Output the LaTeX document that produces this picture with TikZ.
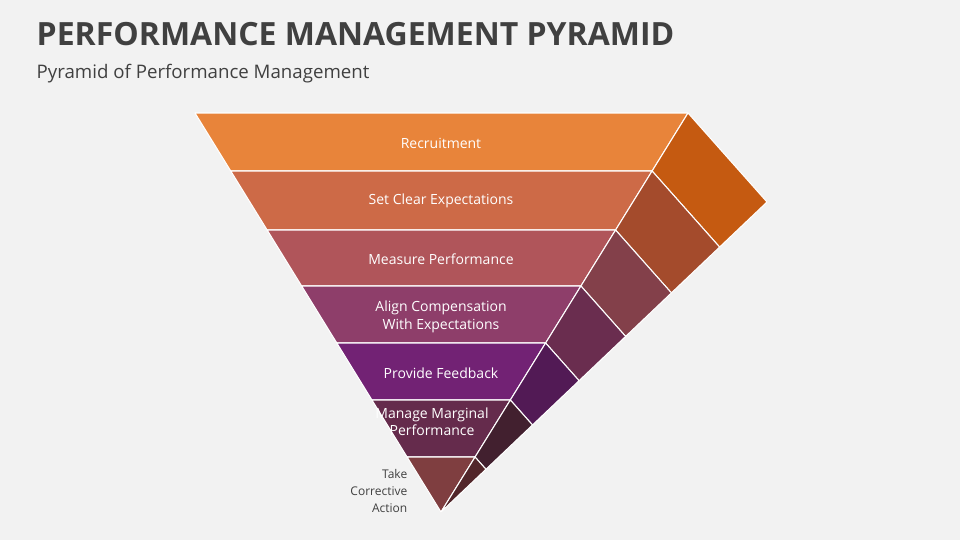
\documentclass[tikz,border=0pt]{standalone}
\usepackage{fontspec}
\setmainfont{Open Sans}
\begin{document}
\begin{tikzpicture}[x=0.75pt,y=-0.75pt,
  face/.style={draw=white,line width=0.8pt,line join=round},
  lbl/.style={text=white,font=\fontsize{10.5}{13}\selectfont,align=center}]
\fill[fill={rgb,255:red,242;green,242;blue,242}] (0,0) rectangle (960,540);
\useasboundingbox (0,0) rectangle (960,540);
\node[anchor=west,font=\bfseries\fontsize{24}{28}\selectfont,text={rgb,255:red,64;green,64;blue,64}] (title) at (32,34) {PERFORMANCE MANAGEMENT PYRAMID};
\node[anchor=west,font=\fontsize{14}{17}\selectfont,text={rgb,255:red,64;green,64;blue,64}] (sub) at (32,74) {Pyramid of Performance Management};
% apex A=(441,512), T-front-left L=(195,113), R=(688,113), B=(767,202)
\def\ys{{113,171,230,286,343,400,457,512}}
\def\fc{{"E8843A","CD6A47","B0555A","8E3E6A","722274","652B4C","7F3E40"}}
\def\sc{{"C55A11","A44B2C","83404A","6A2D4F","521A55","42202F","52262A"}}
\foreach \i in {0,...,6}{
  \pgfmathsetmacro\ya{\ys[\i]}
  \pgfmathsetmacro\yb{\ys[\i+1]}
  \pgfmathsetmacro\fa{(512-\ya)/399}
  \pgfmathsetmacro\fb{(512-\yb)/399}
  \pgfmathsetmacro\fcol{\fc[\i]}
  \pgfmathsetmacro\scol{\sc[\i]}
  \definecolor{fcc}{HTML}{\fcol}
  \definecolor{scc}{HTML}{\scol}
  \fill[fcc,face] (441-246*\fa,\ya) -- (441+247*\fa,\ya) -- (441+247*\fb,\yb) -- (441-246*\fb,\yb) -- cycle;
  \fill[scc,face] (441+247*\fa,\ya) -- (441+326*\fa,512-310*\fa) -- (441+326*\fb,512-310*\fb) -- (441+247*\fb,\yb) -- cycle;
}
\node[lbl] (l1) at (441,143) {Recruitment};
\node[lbl] (l2) at (441,201) {Set Clear Expectations};
\node[lbl] (l3) at (441,259) {Measure Performance};
\node[lbl] (l4) at (441,317) {Align Compensation\\With Expectations};
\node[lbl] (l5) at (441,373) {Provide Feedback};
\node[lbl] (l6) at (432,422) {Manage Marginal\\Performance};
\node[align=right,anchor=east,font=\fontsize{9}{13}\selectfont,text={rgb,255:red,64;green,64;blue,64}] (l7) at (412,491) {Take\\Corrective\\Action};
\end{tikzpicture}
\end{document}
